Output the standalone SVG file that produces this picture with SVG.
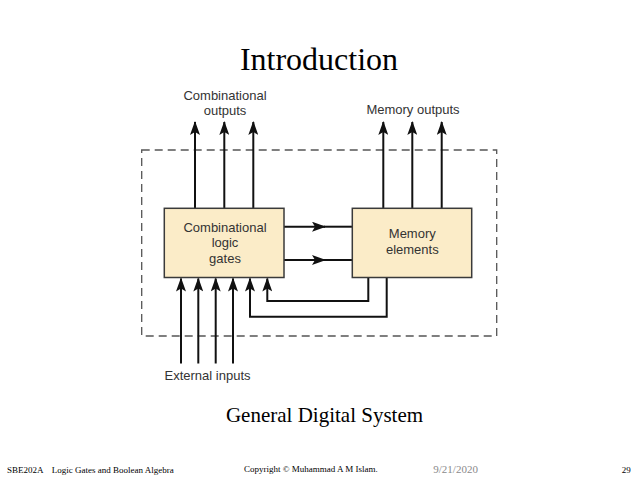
<svg xmlns="http://www.w3.org/2000/svg" width="638" height="478" viewBox="0 0 638 478">
<style>
.t{font-family:"Liberation Serif","Times New Roman",serif;fill:#000}
.s{font-family:"Liberation Sans",Arial,sans-serif;font-size:13px;fill:#333;text-anchor:middle}
.box{fill:#fbecc8;stroke:#3a3a3a;stroke-width:1.5}
.w{fill:none;stroke:#111;stroke-width:2}
</style>
<defs>
<marker id="ah" viewBox="0 0 14 10" refX="13" refY="5" markerWidth="14" markerHeight="10" markerUnits="userSpaceOnUse" orient="auto">
<path d="M0,0 L14,5 L0,10 L3,5 Z" fill="#111"/>
</marker>
</defs>
<rect width="638" height="478" fill="#fff"/>
<text class="t" x="319" y="70" font-size="32" text-anchor="middle">Introduction</text>
<rect x="141.7" y="150" width="355" height="186" fill="none" stroke="#555" stroke-width="1.3" stroke-dasharray="8,5"/>
<g id="combinational-outputs-label">
<text class="s" x="225" y="100">Combinational</text>
<text class="s" x="225" y="115">outputs</text>
</g>
<g id="memory-outputs-label">
<text class="s" x="413" y="113.5">Memory outputs</text>
</g>
<g id="external-inputs-label">
<text class="s" x="207.5" y="379.5">External inputs</text>
</g>
<g id="connectors">
<line class="w" x1="195" y1="208" x2="195" y2="122" marker-end="url(#ah)"/>
<line class="w" x1="224.3" y1="208" x2="224.3" y2="122" marker-end="url(#ah)"/>
<line class="w" x1="253.3" y1="208" x2="253.3" y2="122" marker-end="url(#ah)"/>
<line class="w" x1="383.3" y1="208" x2="383.3" y2="122" marker-end="url(#ah)"/>
<line class="w" x1="412.3" y1="208" x2="412.3" y2="122" marker-end="url(#ah)"/>
<line class="w" x1="441.7" y1="208" x2="441.7" y2="122" marker-end="url(#ah)"/>
<line class="w" x1="284" y1="226.7" x2="325" y2="226.7" marker-end="url(#ah)"/>
<line class="w" x1="324" y1="226.7" x2="352" y2="226.7"/>
<line class="w" x1="284" y1="260" x2="325" y2="260" marker-end="url(#ah)"/>
<line class="w" x1="324" y1="260" x2="352" y2="260"/>
<line class="w" x1="181" y1="363.5" x2="181" y2="278.5" marker-end="url(#ah)"/>
<line class="w" x1="198.3" y1="363.5" x2="198.3" y2="278.5" marker-end="url(#ah)"/>
<line class="w" x1="215.7" y1="363.5" x2="215.7" y2="278.5" marker-end="url(#ah)"/>
<line class="w" x1="233" y1="363.5" x2="233" y2="278.5" marker-end="url(#ah)"/>
<path class="w" d="M368.3,278 V301 H267.3 V278.5" marker-end="url(#ah)"/>
<path class="w" d="M386.7,278 V316.7 H250 V278.5" marker-end="url(#ah)"/>
</g>
<g id="combinational-logic">
<rect class="box" x="164.3" y="208.3" width="119.7" height="69.2"/>
<text class="s" x="225" y="231.7">Combinational</text>
<text class="s" x="225" y="247">logic</text>
<text class="s" x="225" y="262.7">gates</text>
</g>
<g id="memory-elements">
<rect class="box" x="352.3" y="208.3" width="119.4" height="69.2"/>
<text class="s" x="412.3" y="238">Memory</text>
<text class="s" x="412.3" y="254">elements</text>
</g>
<text class="t" x="324.5" y="421.7" font-size="21" text-anchor="middle">General Digital System</text>
<text class="t" x="7" y="472.7" font-size="9">SBE202A</text>
<text class="t" x="51.7" y="472.7" font-size="9">Logic Gates and Boolean Algebra</text>
<text class="t" x="244" y="472.3" font-size="9">Copyright © Muhammad A M Islam.</text>
<text class="t" x="433.3" y="472.7" font-size="11" style="fill:#8a8a8a">9/21/2020</text>
<text class="t" x="621.7" y="472.7" font-size="9">29</text>
</svg>
